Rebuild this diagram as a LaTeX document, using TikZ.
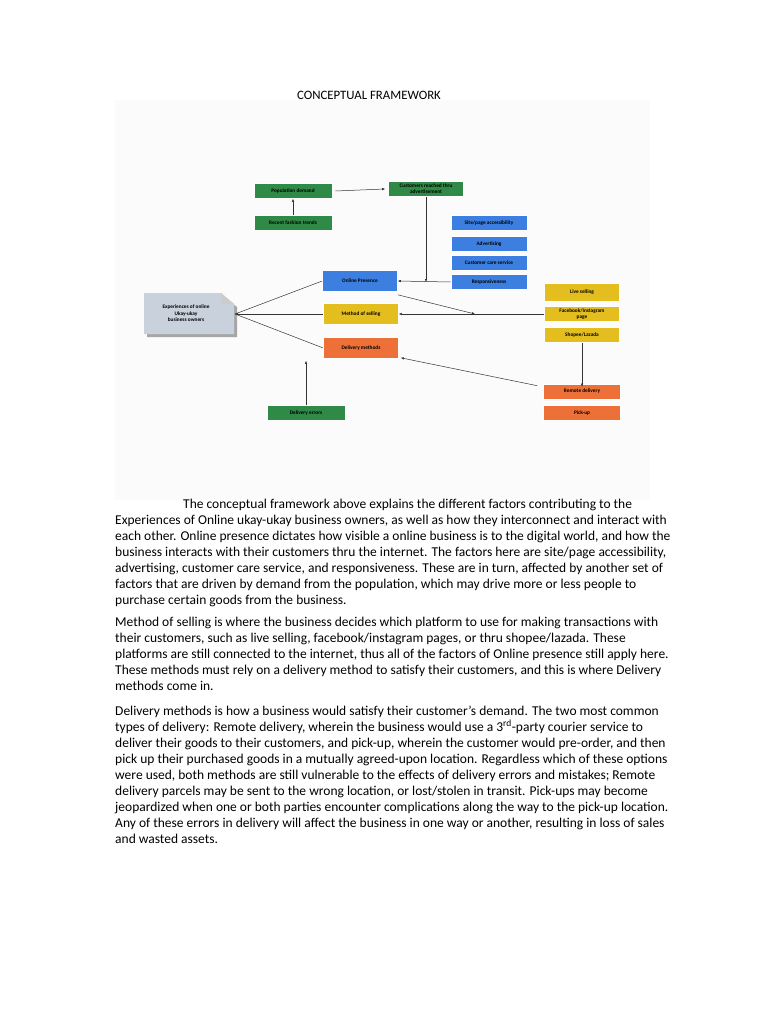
\documentclass[tikz,border=0pt]{standalone}
\usepackage{fontspec}
\setmainfont{Carlito}
\usetikzlibrary{arrows.meta}
\definecolor{gbox}{HTML}{2F8A47}
\definecolor{bbox}{HTML}{3D7FE0}
\definecolor{ybox}{HTML}{E3BE1E}
\definecolor{obox}{HTML}{EC7038}
\definecolor{nbox}{HTML}{C9D1DC}
\begin{document}
\begin{tikzpicture}[x=1pt,y=-1pt,
 bx/.style={minimum width=#1pt,minimum height=15pt,inner sep=0pt,align=center,font=\fontsize{5.3}{5.8}\selectfont\bfseries,draw=white,line width=0.6pt},
 gb/.style={bx=78,fill=gbox},
 bb/.style={bx=76,fill=bbox},
 yb/.style={bx=75,fill=ybox},
 ob/.style={bx=77,fill=obox},
 arr/.style={-{Latex[length=3pt,width=2.5pt]},line width=0.5pt,black!80},
 ln/.style={line width=0.5pt,black!80},
 para/.style={anchor=north west,inner sep=0pt,align=left,font=\fontsize{13.5}{16}\selectfont}]
\useasboundingbox (0,0) rectangle (768,1024);
\fill[white] (0,0) rectangle (768,1024);
\fill[black!1.5] (115,100) rectangle (650,500);
\node (title) at (369,95) {\fontsize{12.8}{14}\selectfont CONCEPTUAL FRAMEWORK};
% boxes
\node[gb] (pop) at (293,191) {Population demand};
\node[gb] (rec) at (293,223) {Recent  fashion trends};
\node[gb,minimum width=75pt] (cust) at (426,189) {Customers reached  thru\\advertisement};
\node[bb] (site) at (489,223) {Site/page accessibility};
\node[bb] (adv) at (489,244) {Advertising};
\node[bb] (care) at (489,263) {Customer care service};
\node[bb] (resp) at (489,282) {Responsiveness};
\node[bx=75,fill=bbox,minimum height=21pt] (onl) at (360,281) {Online Presence};
\node[bx=75,fill=ybox,minimum height=21pt] (meth) at (361,314) {Method of selling};
\node[bx=75,fill=obox,minimum height=21pt] (deli) at (361,348) {Delivery methods};
\node[gb] (err) at (306,413) {Delivery errors};
\node[yb,minimum height=18pt] (live) at (582,292) {Live selling};
\node[yb] (fb) at (582,314) {Facebook/Instagram\\page};
\node[yb] (shop) at (582,335) {Shopee/Lazada};
\node[ob] (remote) at (582,391.5) {Remote delivery};
\node[ob] (pick) at (582,413) {Pick-up};
% experiences note
\fill[black!35] (147,297) -- (224,297) -- (237,307) -- (237,337) -- (147,337) -- cycle;
\fill[nbox] (144,293) -- (221,293) -- (234,304) -- (234,334) -- (144,334) -- cycle;
\fill[black!20] (221,293) -- (221,304) -- (234,304) -- cycle;
\node[font=\fontsize{5.3}{6.4}\selectfont\bfseries,align=center] (exp) at (186,313.5) {Experiences of online\\Ukay-ukay\\business owners};
\coordinate (conv) at (235,314);
% arrows
\draw[arr] (pop.east) ++(3,0) -- ([xshift=-3pt]cust.west);
\draw[arr] (rec.north) -- (pop.south);
\coordinate (j1) at (426,282);
\draw[arr] (cust.south) -- (j1);
\draw[arr] (resp.west) -- (onl.east);
\coordinate (j2) at (475,314);
\draw[arr] ([yshift=-3pt]onl.south east) -- (j2);
\draw[arr] (fb.west) -- (meth.east);
\draw[arr] (shop.south) -- ([yshift=-3pt]remote.north);
\draw[arr] ([xshift=-6pt,yshift=-2pt]remote.north west) -- ([yshift=1pt,xshift=2pt]deli.south east);
\draw[arr] (err.north) -- ([yshift=-2pt]deli.south west -| err.north);
\draw[ln] (onl.west) -- (conv);
\draw[ln] (deli.west) -- (conv);
\draw[arr] (meth.west) -- (conv);
% text
\node[para] (p1) at (115,499) {\hspace*{68pt}The conceptual framework above explains the different factors contributing to the\\
Experiences of Online ukay-ukay business owners, as well as how they interconnect and interact with\\
each other. Online presence dictates how visible a online business is to the digital world, and how the\\
business interacts with their customers thru the internet. The factors here are site/page accessibility,\\
advertising, customer care service, and responsiveness. These are in turn, affected by another set of\\
factors that are driven by demand from the population, which may drive more or less people to\\
purchase certain goods from the business.};
\node[para] (p2) at (115,617) {Method of selling is where the business decides which platform to use for making transactions with\\
their customers, such as live selling, facebook/instagram pages, or thru shopee/lazada. These\\
platforms are still connected to the internet, thus all of the factors of Online presence still apply here.\\
These methods must rely on a delivery method to satisfy their customers, and this is where Delivery\\
methods come in.};
\node[para] (p3) at (115,706) {Delivery methods is how a business would satisfy their customer's demand. The two most common\\
types of delivery: Remote delivery, wherein the business would use a 3\textsuperscript{rd}-party courier service to\\
deliver their goods to their customers, and pick-up, wherein the customer would pre-order, and then\\
pick up their purchased goods in a mutually agreed-upon location. Regardless which of these options\\
were used, both methods are still vulnerable to the effects of delivery errors and mistakes; Remote\\
delivery parcels may be sent to the wrong location, or lost/stolen in transit. Pick-ups may become\\
jeopardized when one or both parties encounter complications along the way to the pick-up location.\\
Any of these errors in delivery will affect the business in one way or another, resulting in loss of sales\\
and wasted assets.};
\end{tikzpicture}
\end{document}
